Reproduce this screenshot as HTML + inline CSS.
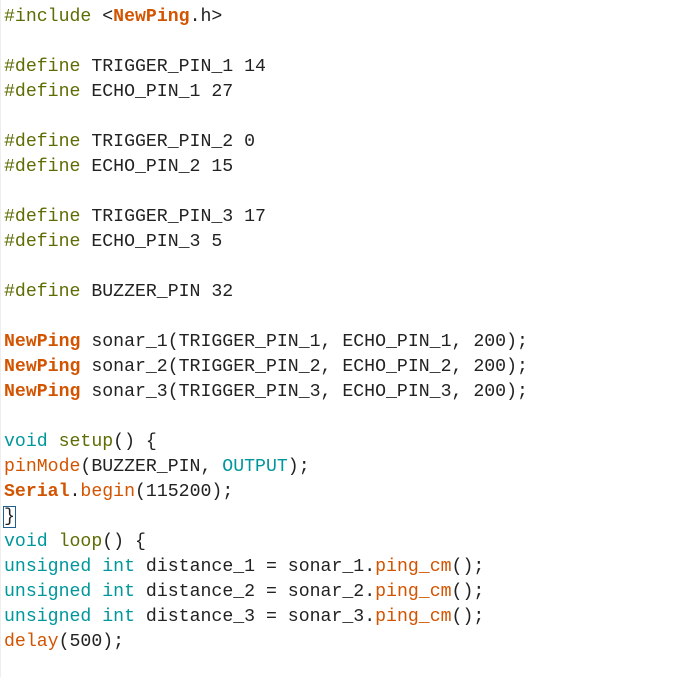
<!DOCTYPE html>
<html><head><style>
body{margin:0;background:#fff;width:698px;height:677px;overflow:hidden}
pre{margin:0;padding:5px 0 0 3px;font-family:"Liberation Mono",monospace;font-size:18.2px;line-height:25px;color:#222;border-left:1px solid #eee;height:672px}
.d{color:#5e6d03}.o{color:#d35400}.b{color:#d35400;font-weight:bold}.t{color:#00979c}
.c{outline:1.5px solid #1f5f8f;outline-offset:0}
</style></head><body><pre><span class="d">#include</span> &lt;<span class="b">NewPing</span>.h&gt;

<span class="d">#define</span> TRIGGER_PIN_1 14
<span class="d">#define</span> ECHO_PIN_1 27

<span class="d">#define</span> TRIGGER_PIN_2 0
<span class="d">#define</span> ECHO_PIN_2 15

<span class="d">#define</span> TRIGGER_PIN_3 17
<span class="d">#define</span> ECHO_PIN_3 5

<span class="d">#define</span> BUZZER_PIN 32

<span class="b">NewPing</span> sonar_1(TRIGGER_PIN_1, ECHO_PIN_1, 200);
<span class="b">NewPing</span> sonar_2(TRIGGER_PIN_2, ECHO_PIN_2, 200);
<span class="b">NewPing</span> sonar_3(TRIGGER_PIN_3, ECHO_PIN_3, 200);

<span class="t">void</span> <span class="d">setup</span>() {
<span class="o">pinMode</span>(BUZZER_PIN, <span class="t">OUTPUT</span>);
<span class="b">Serial</span>.<span class="o">begin</span>(115200);
<span class="c">}</span>
<span class="t">void</span> <span class="d">loop</span>() {
<span class="t">unsigned</span> <span class="t">int</span> distance_1 = sonar_1.<span class="o">ping_cm</span>();
<span class="t">unsigned</span> <span class="t">int</span> distance_2 = sonar_2.<span class="o">ping_cm</span>();
<span class="t">unsigned</span> <span class="t">int</span> distance_3 = sonar_3.<span class="o">ping_cm</span>();
<span class="o">delay</span>(500);
</pre></body></html>
